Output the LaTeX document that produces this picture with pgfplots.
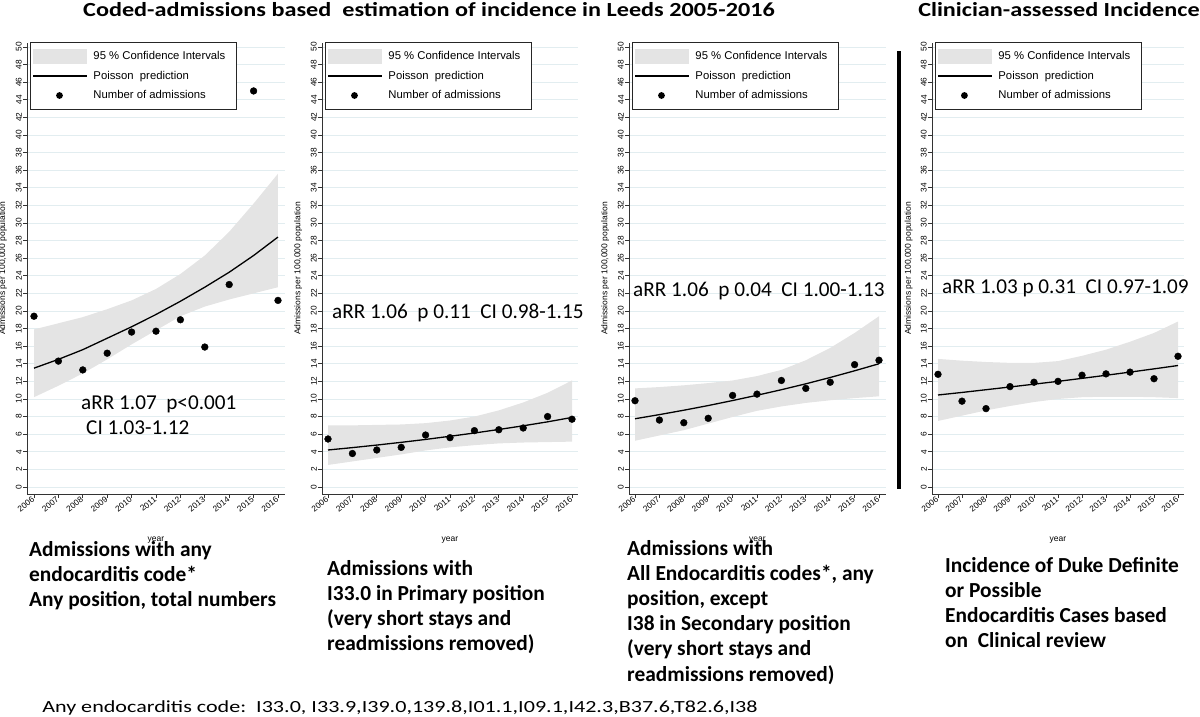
\documentclass[border=0pt]{standalone}
\usepackage{fontspec}
\setmainfont{Liberation Sans}
\newfontfamily\carlito{Carlito}
\usepackage{pgfplots}
\usepackage{pgfplotstable}
\pgfplotsset{compat=1.18}

\definecolor{bandgray}{HTML}{E4E4E4}
\definecolor{gridblue}{HTML}{E2EDF0}

\newcommand\tickfont{\fontsize{8.3pt}{9pt}\selectfont}
\newcommand\labfont{\fontsize{8.5pt}{10pt}\selectfont}
\newcommand\legfont{\fontsize{11.3pt}{13pt}\selectfont}
\newcommand\annfont{\carlito\fontsize{21.2pt}{25pt}\selectfont}
\newcommand\capfont{\carlito\bfseries\fontsize{21.4pt}{25pt}\selectfont}

% observed and predicted
\pgfplotstableread{
year obs pred
2006 19.4 13.5
2007 14.3 14.5
2008 13.3 15.6
2009 15.2 16.9
2010 17.6 18.2
2011 17.7 19.6
2012 19.0 21.1
2013 15.9 22.7
2014 23.0 24.4
2015 45.0 26.3
2016 21.2 28.4
}\dataA
% confidence band: upper limits forward, lower limits backward
\pgfplotstableread{
year ci
2006 17.9
2007 18.6
2008 19.3
2009 20.2
2010 21.2
2011 22.5
2012 24.2
2013 26.3
2014 29.0
2015 32.2
2016 35.6
2016 22.7
2015 22.0
2014 21.3
2013 20.5
2012 19.4
2011 17.8
2010 16.2
2009 14.5
2008 12.9
2007 11.5
2006 10.2
}\bandA

\pgfplotstableread{
year obs pred
2006 5.45 4.20
2007 3.80 4.47
2008 4.20 4.76
2009 4.50 5.07
2010 5.90 5.40
2011 5.60 5.76
2012 6.40 6.13
2013 6.50 6.53
2014 6.70 6.95
2015 8.00 7.40
2016 7.70 7.90
}\dataB
\pgfplotstableread{
year ci
2006 7.00
2007 7.00
2008 7.05
2009 7.10
2010 7.25
2011 7.55
2012 8.00
2013 8.70
2014 9.60
2015 10.70
2016 12.10
2016 5.15
2015 5.10
2014 5.05
2013 4.95
2012 4.75
2011 4.50
2010 4.15
2009 3.70
2008 3.30
2007 2.90
2006 2.50
}\bandB

\pgfplotstableread{
year obs pred
2006 9.80 7.75
2007 7.60 8.22
2008 7.30 8.72
2009 7.80 9.25
2010 10.40 9.82
2011 10.55 10.42
2012 12.10 11.05
2013 11.20 11.72
2014 11.90 12.44
2015 13.90 13.20
2016 14.40 14.00
}\dataC
\pgfplotstableread{
year ci
2006 11.20
2007 11.35
2008 11.55
2009 11.80
2010 12.10
2011 12.60
2012 13.30
2013 14.40
2014 15.80
2015 17.50
2016 19.40
2016 10.30
2015 10.10
2014 9.85
2013 9.55
2012 9.15
2011 8.65
2010 7.95
2009 7.20
2008 6.45
2007 5.85
2006 5.25
}\bandC

\pgfplotstableread{
year obs pred
2006 12.80 10.45
2007 9.75 10.74
2008 8.90 11.05
2009 11.40 11.36
2010 11.90 11.68
2011 12.00 12.00
2012 12.70 12.34
2013 12.85 12.69
2014 13.05 13.05
2015 12.30 13.42
2016 14.85 13.80
}\dataD
\pgfplotstableread{
year ci
2006 14.55
2007 14.35
2008 14.20
2009 14.10
2010 14.10
2011 14.30
2012 14.90
2013 15.60
2014 16.50
2015 17.50
2016 18.80
2016 10.10
2015 10.20
2014 10.25
2013 10.25
2012 10.20
2011 10.00
2010 9.65
2009 9.20
2008 8.70
2007 8.10
2006 7.50
}\bandD

\pgfplotsset{
  panel/.style={
    scale only axis, anchor=south west, height=451pt,
    ymin=-0.8, ymax=50.45,
    axis x line*=bottom, axis y line*=left,
    axis line style={-, black!80, line width=0.7pt},
    xtick={2006,2007,...,2016}, ytick={0,2,...,50},
    ymajorgrids, major grid style={gridblue, line width=0.7pt},
    tick align=outside, major tick length=4pt,
    major tick style={black!80, line width=0.6pt},
    /pgf/number format/1000 sep={},
    /pgf/number format/assume math mode=true,
    x tick label style={rotate=38, anchor=east, font=\tickfont, inner sep=0.8pt},
    y tick label style={rotate=90, anchor=south, font=\tickfont, inner sep=1pt},
    xlabel={year},
    xlabel style={font=\labfont, at={(axis description cs:0.5,0)}, anchor=center, yshift=-46pt},
    ylabel={Admissions per 100,000 population},
    ylabel style={font=\labfont, at={(axis description cs:-0.093,0.5)}, anchor=center},
    legend style={at={(axis description cs:0.012,1.002)}, anchor=north west,
      draw=black!85, line width=0.8pt, font=\legfont, inner xsep=1pt, inner ysep=4pt,
      row sep=0pt, nodes={inner sep=2pt}},
    legend cell align=left,
  },
  bandleg/.style={legend image code/.code={
    \path[draw=none, fill=bandgray] (2pt,-7.5pt) rectangle (56pt,7.5pt);
    \path[draw=none, fill=none] (0pt,-9.8pt) rectangle (60pt,9.8pt);}},
  lineleg/.style={legend image code/.code={
    \path[draw=black, fill=none, line width=1.3pt] (2pt,0pt) -- (56pt,0pt);
    \path[draw=none, fill=none] (0pt,-9.8pt) rectangle (60pt,9.8pt);}},
  dotleg/.style={legend image code/.code={
    \path[draw=none, fill=black] (28pt,0pt) circle[radius=3.4pt];
    \path[draw=none, fill=none] (0pt,-9.8pt) rectangle (60pt,9.8pt);}},
}

\newcommand\panelplots[2]{%
  \addplot[fill=bandgray, draw=none, bandleg] table[x=year, y=ci] {#2} -- cycle;
  \addlegendentry{95 \% Confidence Intervals\hspace*{8pt}}
  \addplot[black, line width=1.3pt, lineleg] table[x=year, y=pred] {#1};
  \addlegendentry{Poisson\ \ prediction}
  \addplot[only marks, mark=*, mark size=3.4pt, black, dotleg] table[x=year, y=obs] {#1};
  \addlegendentry{Number of admissions}
}

\begin{document}
\begin{tikzpicture}
\path[use as bounding box] (0pt,0pt) rectangle (1200pt,717pt);

\begin{axis}[panel, at={(27pt,223pt)}, width=258pt, xmin=2005.713, xmax=2016.287]
\panelplots{\dataA}{\bandA}
\end{axis}
\begin{axis}[panel, at={(322pt,223pt)}, width=256pt, xmin=2005.754, xmax=2016.246]
\panelplots{\dataB}{\bandB}
\end{axis}
\begin{axis}[panel, at={(629pt,223pt)}, width=257pt, xmin=2005.754, xmax=2016.287]
\panelplots{\dataC}{\bandC}
\end{axis}
\begin{axis}[panel, at={(932pt,223pt)}, width=252pt, xmin=2005.75, xmax=2016.25]
\panelplots{\dataD}{\bandD}
\end{axis}

% separator bar
\fill[black] (897pt,228pt) rectangle (901pt,666pt);

% titles
\node[anchor=base west, inner sep=0pt, xscale=1.21, font=\carlito\bfseries\fontsize{20pt}{24pt}\selectfont] at (83pt,700pt) {Coded-admissions based\ \ estimation of incidence in Leeds 2005-2016};
\node[anchor=base west, inner sep=0pt, xscale=1.21, font=\carlito\bfseries\fontsize{20pt}{24pt}\selectfont] at (918pt,700pt) {Clinician-assessed Incidence};

% annotations
\node[anchor=base west, inner sep=0pt, font=\annfont] at (81pt,307pt) {aRR 1.07\ \ p<0.001};
\node[anchor=base west, inner sep=0pt, font=\annfont] at (86pt,282pt) {CI 1.03-1.12};
\node[anchor=base west, inner sep=0pt, font=\annfont] at (332pt,398pt) {aRR 1.06\ \ p 0.11\ \ CI 0.98-1.15};
\node[anchor=base west, inner sep=0pt, font=\annfont] at (633pt,420pt) {aRR 1.06\ \ p 0.04\ \ CI 1.00-1.13};
\node[anchor=base west, inner sep=0pt, font=\annfont] at (942pt,423pt) {aRR 1.03 p 0.31\ \ CI 0.97-1.09};

% captions
\node[anchor=base west, inner sep=0pt, font=\capfont] at (29pt,160pt) {Admissions with any};
\node[anchor=base west, inner sep=0pt, font=\capfont] at (29pt,135pt) {endocarditis code*};
\node[anchor=base west, inner sep=0pt, font=\capfont] at (29pt,110pt) {Any position, total numbers};

\node[anchor=base west, inner sep=0pt, font=\capfont] at (327pt,141pt) {Admissions with};
\node[anchor=base west, inner sep=0pt, font=\capfont] at (327pt,116pt) {I33.0 in Primary position};
\node[anchor=base west, inner sep=0pt, font=\capfont] at (327pt,91pt) {(very short stays and};
\node[anchor=base west, inner sep=0pt, font=\capfont] at (327pt,66pt) {readmissions removed)};

\node[anchor=base west, inner sep=0pt, font=\capfont] at (627pt,161pt) {Admissions with};
\node[anchor=base west, inner sep=0pt, font=\capfont] at (627pt,136pt) {All Endocarditis codes*, any};
\node[anchor=base west, inner sep=0pt, font=\capfont] at (627pt,111pt) {position, except};
\node[anchor=base west, inner sep=0pt, font=\capfont] at (627pt,86pt) {I38 in Secondary position};
\node[anchor=base west, inner sep=0pt, font=\capfont] at (627pt,61pt) {(very short stays and};
\node[anchor=base west, inner sep=0pt, font=\capfont] at (627pt,35pt) {readmissions removed)};

\node[anchor=base west, inner sep=0pt, font=\capfont] at (945pt,144pt) {Incidence of Duke Definite};
\node[anchor=base west, inner sep=0pt, font=\capfont] at (945pt,119pt) {or Possible};
\node[anchor=base west, inner sep=0pt, font=\capfont] at (945pt,94pt) {Endocarditis Cases based};
\node[anchor=base west, inner sep=0pt, font=\capfont] at (945pt,69pt) {on\ \ Clinical review};

% footnote
\node[anchor=base west, inner sep=0pt, xscale=1.3, font=\carlito\fontsize{17pt}{20pt}\selectfont] at (42pt,4pt) {Any endocarditis code:\ \ I33.0, I33.9,I39.0,139.8,I01.1,I09.1,I42.3,B37.6,T82.6,I38};
\end{tikzpicture}
\end{document}
